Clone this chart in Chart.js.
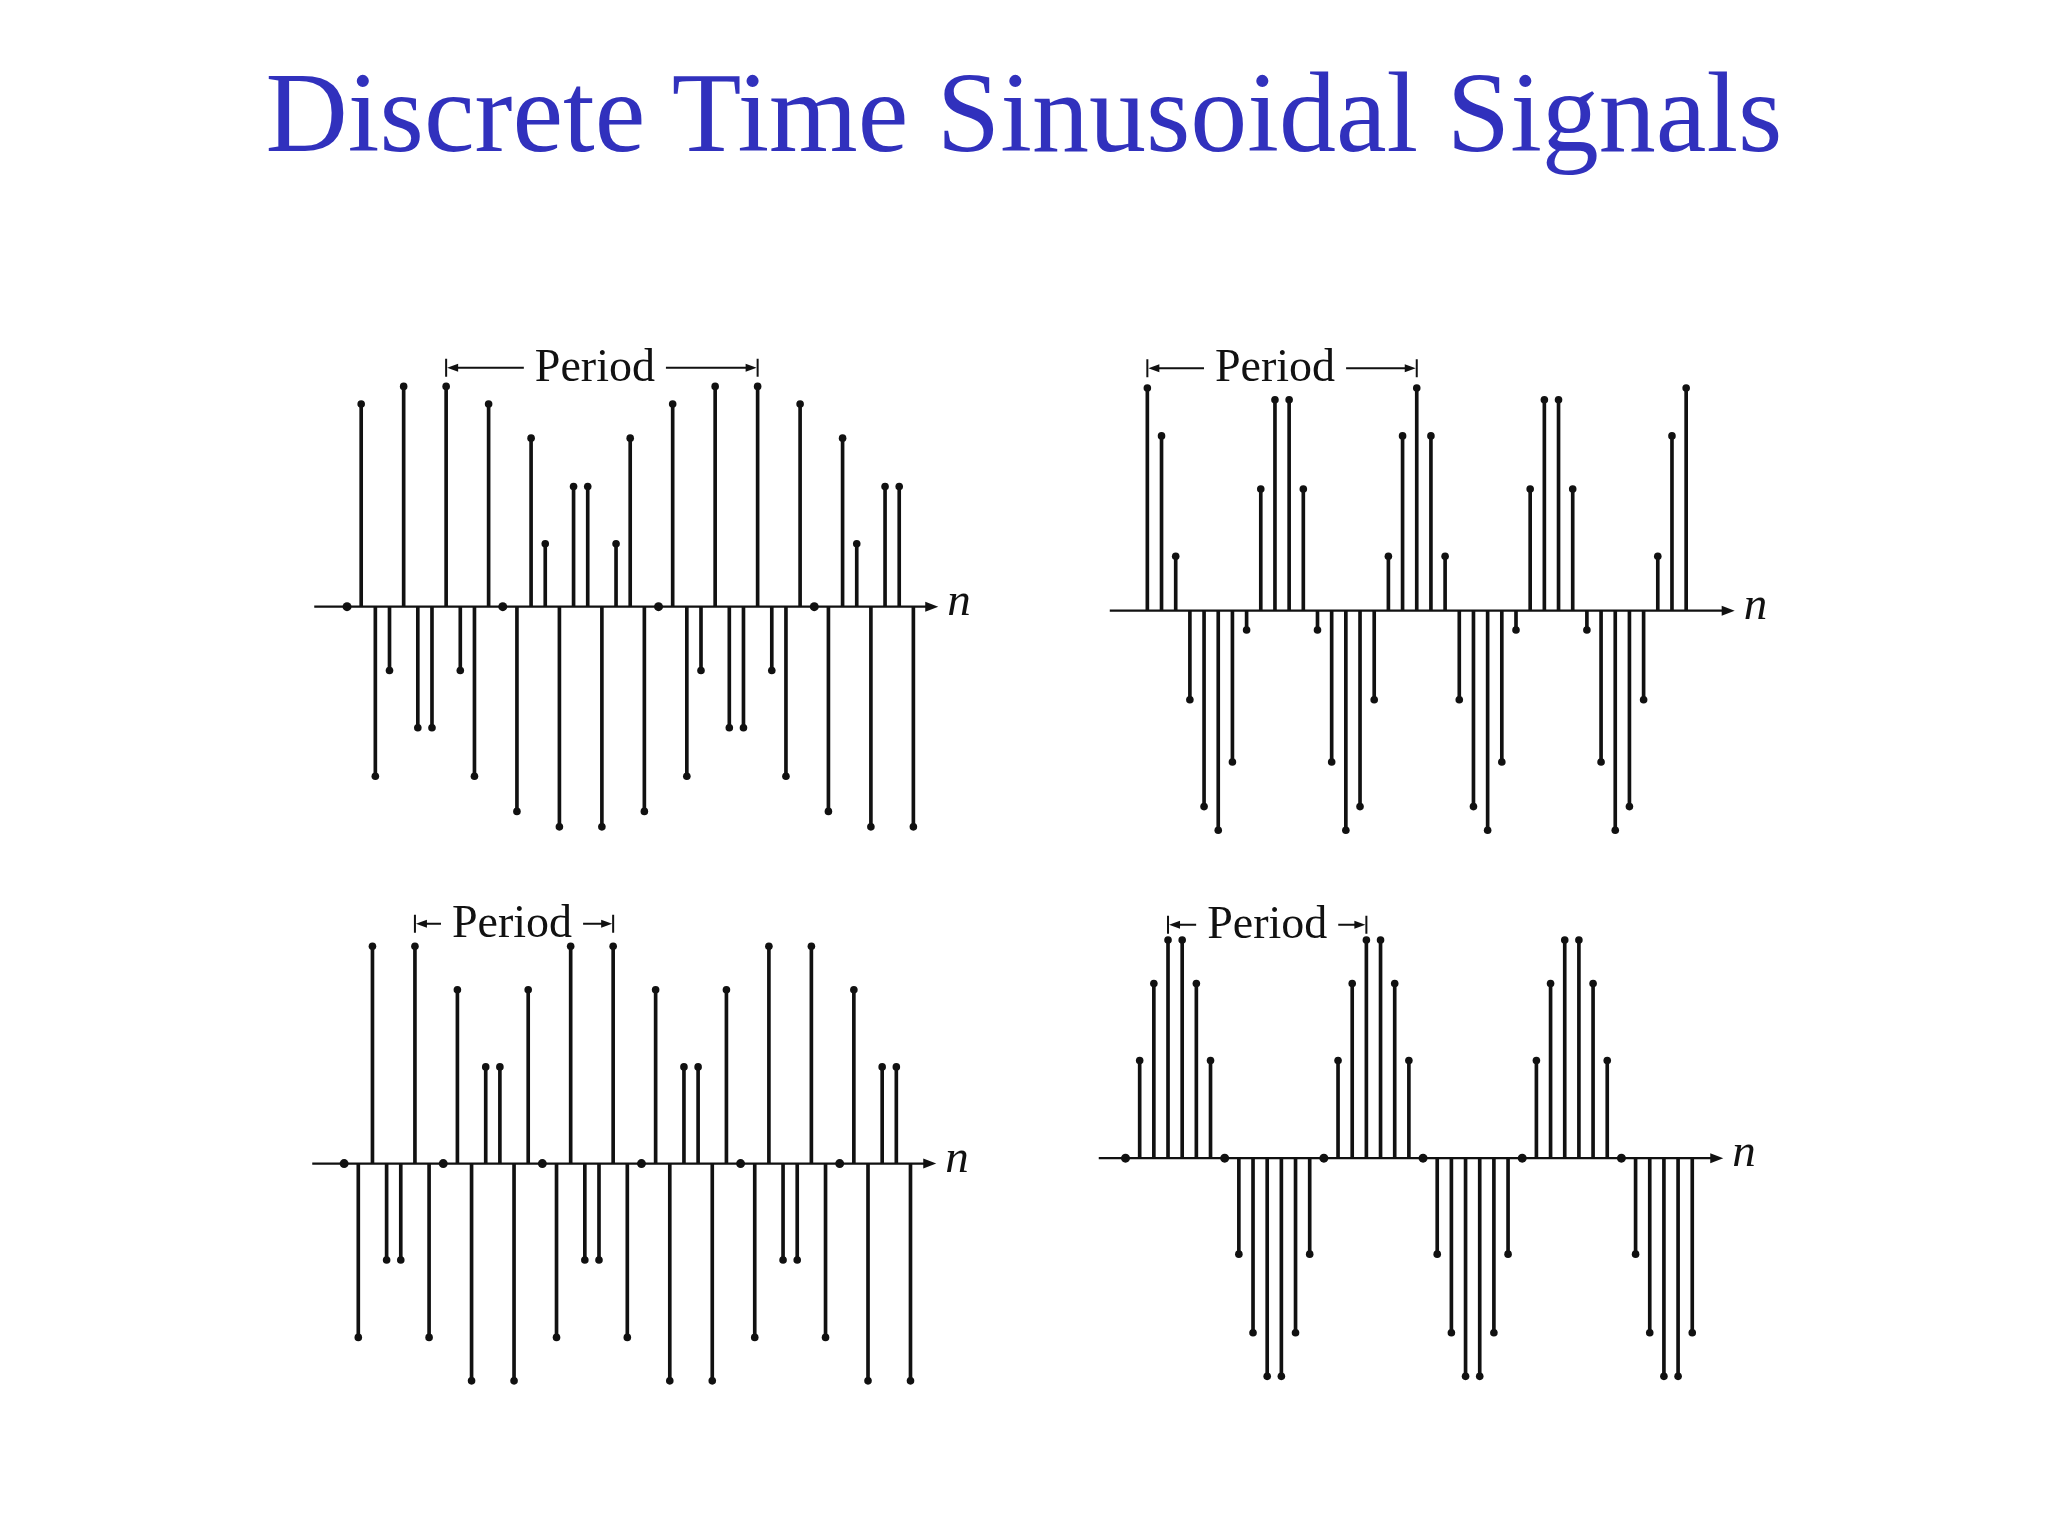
<!DOCTYPE html>
<html>
<head>
<meta charset="utf-8">
<script src="https://cdn.jsdelivr.net/npm/chart.js@4.4.1/dist/chart.umd.min.js"></script>
<style>
  html, body { margin: 0; padding: 0; background: #ffffff; }
  body { width: 2048px; height: 1536px; position: relative; overflow: hidden; }
  #title {
    position: absolute; left: 0; top: 56px; width: 2048px;
    text-align: center; font-family: "Liberation Serif", "DejaVu Serif", serif;
    font-size: 114px; line-height: 114px; color: #3131BD; white-space: nowrap;
  }
  canvas { position: absolute; }
</style>
</head>
<body>
<div id="title"></div>
<canvas id="c1"></canvas>
<canvas id="c2"></canvas>
<canvas id="c3"></canvas>
<canvas id="c4"></canvas>
<script>
// ---------- data ----------
const titleText = "Discrete Time Sinusoidal Signals";
const periodLabel = "Period";
const axisLabel = "n";

const p1Values = [0, 0.92, -0.77, -0.29, 1.0, -0.55, -0.55, 1.0, -0.29, -0.77, 0.92,
  0, -0.93, 0.765, 0.285, -1.0, 0.545, 0.545, -1.0, 0.285, 0.765, -0.93,
  0, 0.92, -0.77, -0.29, 1.0, -0.55, -0.55, 1.0, -0.29, -0.77, 0.92,
  0, -0.93, 0.765, 0.285, -1.0, 0.545, 0.545, -1.0];

const p2Values = [1.0, 0.785, 0.244, -0.40, -0.88, -0.986, -0.68, -0.087, 0.546, 0.947,
  0.947, 0.546, -0.087, -0.68, -0.986, -0.88, -0.40, 0.244, 0.785, 1.0,
  0.785, 0.244, -0.40, -0.88, -0.986, -0.68, -0.087, 0.546, 0.947, 0.947,
  0.546, -0.087, -0.68, -0.986, -0.88, -0.40, 0.244, 0.785, 1.0];

const p3Values = [0, -0.80, 1.0, -0.444, -0.444, 1.0, -0.80,
  0, 0.80, -1.0, 0.445, 0.445, -1.0, 0.80,
  0, -0.80, 1.0, -0.444, -0.444, 1.0, -0.80,
  0, 0.80, -1.0, 0.445, 0.445, -1.0, 0.80,
  0, -0.80, 1.0, -0.444, -0.444, 1.0, -0.80,
  0, 0.80, -1.0, 0.445, 0.445, -1.0];

const p4Values = [0, 0.447, 0.80, 1.0, 1.0, 0.80, 0.447,
  0, -0.44, -0.80, -1.0, -1.0, -0.80, -0.44,
  0, 0.447, 0.80, 1.0, 1.0, 0.80, 0.447,
  0, -0.44, -0.80, -1.0, -1.0, -0.80, -0.44,
  0, 0.447, 0.80, 1.0, 1.0, 0.80, 0.447,
  0, -0.44, -0.80, -1.0, -1.0, -0.80];

const periodStarts = [7, 0, 5, 3];
const periodEnds   = [29, 19, 19, 17];

// ---------- layout (pixels on the page) ----------
const layouts = [
  { id: 'c1', axisY: 607,    n0X: 343.2,  dx: 14.34, amp: 224, axisFromX: 310,    axisToX: 942,  periodY: 364, labelShift: -7 },
  { id: 'c2', axisY: 611,    n0X: 1144.0, dx: 14.34, amp: 226, axisFromX: 1106,   axisToX: 1738, periodY: 365, labelShift: -7 },
  { id: 'c3', axisY: 1164,   n0X: 340.3,  dx: 14.34, amp: 221, axisFromX: 308,    axisToX: 940,  periodY: 920, labelShift: -2 },
  { id: 'c4', axisY: 1158.5, n0X: 1121.6, dx: 14.35, amp: 222, axisFromX: 1094.5, axisToX: 1727, periodY: 921, labelShift: 0 }
];
const seriesList = [p1Values, p2Values, p3Values, p4Values];

document.getElementById('title').textContent = titleText;

const INK = '#111111';
const serif = '"Liberation Serif", "DejaVu Serif", serif';

const stemDecor = {
  id: 'stemDecor',
  beforeDatasetsDraw(chart, args, opts) {
    const ctx = chart.ctx, xs = chart.scales.x, ys = chart.scales.y;
    const y0 = ys.getPixelForValue(0);
    const xa = xs.getPixelForValue(opts.axisFrom);
    const xb = xs.getPixelForValue(opts.axisTo);
    ctx.save();
    ctx.strokeStyle = INK; ctx.fillStyle = INK; ctx.lineWidth = 2.2;
    ctx.beginPath(); ctx.moveTo(xa, y0); ctx.lineTo(xb - 8, y0); ctx.stroke();
    ctx.beginPath(); ctx.moveTo(xb, y0); ctx.lineTo(xb - 13, y0 - 5); ctx.lineTo(xb - 13, y0 + 5); ctx.closePath(); ctx.fill();
    ctx.font = 'italic 47px ' + serif;
    ctx.textAlign = 'left'; ctx.textBaseline = 'alphabetic';
    ctx.fillText(axisLabel, xb + 9, y0 + 8);
    ctx.restore();
  },
  afterDatasetsDraw(chart, args, opts) {
    const ctx = chart.ctx, xs = chart.scales.x, ys = chart.scales.y;
    const x1 = xs.getPixelForValue(opts.pStart);
    const x2 = xs.getPixelForValue(opts.pEnd);
    const y = ys.getPixelForValue(opts.pLevel);
    ctx.save();
    ctx.strokeStyle = INK; ctx.fillStyle = INK; ctx.lineWidth = 2;
    ctx.font = '46px ' + serif;
    const w = ctx.measureText(periodLabel).width;
    const cx = (x1 + x2) / 2 + opts.labelShift;
    const gap = 11;
    ctx.beginPath();
    ctx.moveTo(x1, y - 9); ctx.lineTo(x1, y + 9);
    ctx.moveTo(x2, y - 9); ctx.lineTo(x2, y + 9);
    ctx.stroke();
    ctx.beginPath();
    ctx.moveTo(x1 + 8, y); ctx.lineTo(cx - w / 2 - gap, y);
    ctx.moveTo(cx + w / 2 + gap, y); ctx.lineTo(x2 - 8, y);
    ctx.stroke();
    ctx.beginPath();
    ctx.moveTo(x1 + 1, y); ctx.lineTo(x1 + 12, y - 4); ctx.lineTo(x1 + 12, y + 4); ctx.closePath();
    ctx.moveTo(x2 - 1, y); ctx.lineTo(x2 - 12, y - 4); ctx.lineTo(x2 - 12, y + 4); ctx.closePath();
    ctx.fill();
    ctx.textAlign = 'center'; ctx.textBaseline = 'alphabetic';
    ctx.fillText(periodLabel, cx, y + 13);
    ctx.restore();
  }
};

layouts.forEach((L, k) => {
  const values = seriesList[k];
  const left = Math.round(L.axisFromX - 20);
  const right = Math.round(L.axisToX + 60);
  const top = Math.round(L.periodY - 45);
  const bottom = Math.round(L.axisY + L.amp + 20);
  const W = right - left, H = bottom - top;
  const cv = document.getElementById(L.id);
  cv.width = W; cv.height = H;
  cv.style.left = left + 'px'; cv.style.top = top + 'px';
  cv.style.width = W + 'px'; cv.style.height = H + 'px';

  const xMin = (left - L.n0X) / L.dx, xMax = (right - L.n0X) / L.dx;
  const yMax = (L.axisY - top) / L.amp, yMin = -(bottom - L.axisY) / L.amp;
  const pts = values.map((v, i) => ({ x: i, y: v }));

  new Chart(cv, {
    type: 'bar',
    data: {
      datasets: [
        { type: 'bar', data: pts, backgroundColor: INK, borderWidth: 0, barThickness: 3, grouped: false },
        { type: 'scatter', data: pts, showLine: false,
          pointRadius: c => (c.raw && c.raw.y === 0 ? 4.5 : 3.8),
          pointBackgroundColor: INK, pointBorderWidth: 0, pointHoverRadius: 4 }
      ]
    },
    options: {
      responsive: false, animation: false, devicePixelRatio: 1,
      layout: { padding: 0 },
      scales: {
        x: { type: 'linear', display: false, min: xMin, max: xMax, offset: false },
        y: { type: 'linear', display: false, min: yMin, max: yMax }
      },
      plugins: {
        legend: { display: false }, tooltip: { enabled: false },
        stemDecor: {
          axisFrom: (L.axisFromX - L.n0X) / L.dx,
          axisTo: (L.axisToX - L.n0X) / L.dx,
          pStart: periodStarts[k], pEnd: periodEnds[k],
          pLevel: (L.axisY - L.periodY) / L.amp,
          labelShift: L.labelShift
        }
      }
    },
    plugins: [stemDecor]
  });
});
</script>
</body>
</html>
